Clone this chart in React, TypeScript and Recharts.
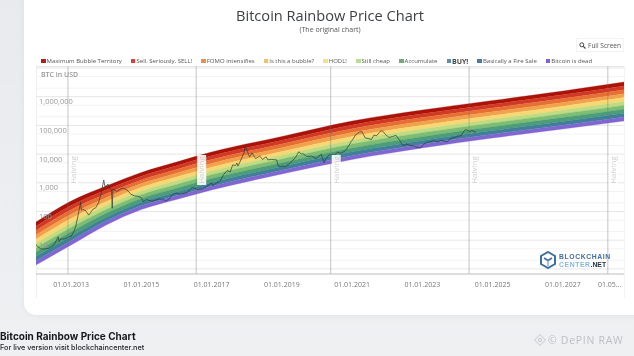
import { Area, CartesianGrid, ComposedChart, Line, ReferenceLine, XAxis, YAxis } from 'recharts';

const bandNames = ['Maximum Bubble Territory', 'Sell. Seriously, SELL!', 'FOMO intensifies', 'Is this a bubble?', 'HODL!', 'Still cheap', 'Accumulate', 'BUY!', 'Basically a Fire Sale', 'Bitcoin is dead'];
const bandColors = ['#ad1208', '#d03a24', '#e66f33', '#f0a24c', '#f8d873', '#bfdc82', '#7dbd74', '#4c9e78', '#3f8098', '#8066d0'];
const legendColors = ['#b51c1c', '#d9423a', '#e8914f', '#f1c265', '#f8de8a', '#bbdc94', '#6fae7b', '#5b8fa8', '#4a78a8', '#8562d2'];

const bandYears = [2012, 2013, 2014, 2015, 2016, 2017, 2019, 2021, 2023, 2025, 2027, 2028.74];
const edge0 = [43.1, 232, 773, 2290, 5300, 11800, 41000, 142000, 344000, 736000, 1580000, 3250000];
const edge1 = [30.5, 163, 565, 1700, 3920, 8730, 30300, 104000, 254000, 545000, 1160000, 2380000];
const edge2 = [21.6, 115, 413, 1260, 2900, 6430, 22500, 76700, 187000, 404000, 857000, 1740000];
const edge3 = [15.3, 80.5, 302, 938, 2150, 4740, 16600, 56400, 138000, 299000, 632000, 1270000];
const edge4 = [10.8, 56.6, 221, 697, 1590, 3500, 12300, 41400, 101000, 221000, 466000, 931000];
const edge5 = [7.67, 39.7, 162, 518, 1180, 2580, 9120, 30400, 74800, 164000, 344000, 681000];
const edge6 = [5.43, 27.9, 118, 385, 871, 1900, 6750, 22300, 55200, 121000, 254000, 498000];
const edge7 = [3.85, 19.6, 86.5, 286, 646, 1400, 4990, 16400, 40600, 89700, 187000, 364000];
const edge8 = [2.73, 13.8, 63.2, 212, 478, 1030, 3690, 12000, 30000, 66400, 138000, 266000];
const edge9 = [1.93, 9.66, 46.2, 158, 354, 762, 2740, 8830, 22100, 49200, 101000, 195000];
const edge10 = [1.37, 6.79, 33.8, 117, 262, 561, 2020, 6490, 16300, 36400, 74800, 142000];
const edges = [edge0, edge1, edge2, edge3, edge4, edge5, edge6, edge7, edge8, edge9, edge10];

const priceYears = [
  2012, 2012.03, 2012.08, 2012.15, 2012.25, 2012.35, 2012.45, 2012.52, 2012.6, 2012.63, 2012.66, 2012.7, 2012.8, 2012.88, 2012.95,
  2013, 2013.08, 2013.13, 2013.2, 2013.27, 2013.29, 2013.33, 2013.42, 2013.5, 2013.55, 2013.62, 2013.7, 2013.78, 2013.85, 2013.92, 2013.93, 2013.96,
  2014, 2014.05, 2014.1, 2014.15, 2014.17, 2014.19, 2014.3, 2014.4, 2014.45, 2014.5, 2014.6, 2014.7, 2014.8, 2014.9,
  2015, 2015.05, 2015.15, 2015.3, 2015.5, 2015.6, 2015.7, 2015.8, 2015.85, 2015.95,
  2016, 2016.1, 2016.3, 2016.45, 2016.5, 2016.6, 2016.75, 2016.85, 2016.95,
  2017, 2017.03, 2017.2, 2017.25, 2017.35, 2017.45, 2017.53, 2017.6, 2017.68, 2017.72, 2017.75, 2017.85, 2017.92, 2017.96,
  2018, 2018.08, 2018.15, 2018.25, 2018.37, 2018.45, 2018.55, 2018.6, 2018.7, 2018.85, 2018.9, 2018.97,
  2019, 2019.1, 2019.25, 2019.4, 2019.48, 2019.52, 2019.55, 2019.6, 2019.7, 2019.85, 2019.95,
  2020, 2020.12, 2020.2, 2020.25, 2020.35, 2020.5, 2020.58, 2020.7, 2020.8, 2020.9, 2020.97,
  2021.03, 2021.1, 2021.2, 2021.28, 2021.37, 2021.45, 2021.55, 2021.62, 2021.7, 2021.8, 2021.86, 2021.95,
  2022.05, 2022.15, 2022.25, 2022.35, 2022.45, 2022.55, 2022.65, 2022.75, 2022.85, 2022.95,
  2023.05, 2023.2, 2023.3, 2023.45, 2023.52, 2023.6, 2023.7, 2023.8, 2023.9,
  2024, 2024.1, 2024.18, 2024.22, 2024.28, 2024.35, 2024.4, 2024.45, 2024.52,
];
const priceValues = [
  6.8, 6.5, 5.5, 4.9, 5, 5.1, 6, 7, 11, 13, 9, 11, 11, 12, 13.5,
  13.5, 20, 30, 75, 210, 110, 120, 105, 75, 90, 120, 135, 200, 400, 1100, 1250, 750,
  770, 900, 650, 550, 130, 600, 500, 600, 640, 640, 550, 400, 350, 340,
  300, 220, 260, 230, 270, 270, 230, 280, 360, 430,
  430, 400, 450, 700, 650, 580, 620, 730, 900,
  1000, 800, 1100, 1200, 2000, 2700, 2400, 4200, 4000, 4900, 3800, 7000, 11000, 19000,
  14000, 8000, 11000, 7000, 8500, 6500, 8000, 6300, 6500, 6300, 3800, 3700,
  3800, 3700, 5000, 8000, 12000, 11000, 10000, 10500, 8300, 8500, 7200,
  7200, 10000, 5000, 6800, 9500, 9300, 11500, 10800, 13000, 19000, 27000,
  34000, 47000, 58000, 60000, 37000, 35000, 32000, 46000, 44000, 62000, 65000, 48000,
  38000, 41000, 45000, 30000, 20000, 22000, 20000, 19500, 17000, 16800,
  23000, 27000, 29000, 27000, 30000, 29000, 26500, 35000, 37000,
  42000, 43000, 62000, 71000, 68000, 60000, 68000, 64000, 58000,
];

const halvingYears = [2012.91, 2016.56, 2020.39, 2024.33, 2028.28];
const xTicks = [2013, 2015, 2017, 2019, 2021, 2023, 2025, 2027, 2028.33];
const xLabels = ['01.01.2013', '01.01.2015', '01.01.2017', '01.01.2019', '01.01.2021', '01.01.2023', '01.01.2025', '01.01.2027', '01.05...'];
const yTicks = [10, 100, 1000, 10000, 100000, 1000000];
const majorGrid = [1, 10, 100, 1000, 10000, 100000, 1000000, 10000000];
const minorGrid = [2, 5, 20, 50, 200, 500, 2000, 5000, 20000, 50000, 200000, 500000, 2000000, 5000000];

const bandRows = bandYears.map((year, j) => ({ year, edges: edges.map((e) => e[j]) }));
const priceRows = priceYears.map((year, i) => ({ year, price: priceValues[i] }));

const font = '"Open Sans", sans-serif';

const HalvingLabel = (props: any) => {
  const x = props.viewBox.x;
  return (
    <g>
      <rect x={x + 1} y={155} width={9} height={30} fill="#fff" fillOpacity={0.9} />
      <text x={x + 8} y={170} transform={`rotate(-90 ${x + 8} 170)`} textAnchor="middle" fontSize={8} fontFamily={font} fill="#cfcfcf">
        Halving
      </text>
    </g>
  );
};

const PriceTick = (props: any) => (
  <text x={39} y={props.y + 7.5} fontSize={7.5} fontFamily={font} fill="#999">
    {Number(props.payload.value).toLocaleString('en-US')}
  </text>
);

export default function App() {
  return (
    <div style={{ position: 'fixed', left: 0, top: 0, width: 634, height: 356, overflow: 'hidden', background: 'linear-gradient(180deg, #e9eaee 0%, #eef0f2 100%)', filter: 'blur(0.4px)', fontFamily: font }}>
      <div style={{ position: 'absolute', left: 24, top: -20, width: 640, height: 335, borderRadius: 12, background: '#fff', boxShadow: '0 1px 6px rgba(0,0,0,0.05)' }} />

      <div style={{ position: 'absolute', left: 130, width: 400, top: 6, lineHeight: '18px', textAlign: 'center', fontSize: 14.6, color: '#3c3f44' }}>Bitcoin Rainbow Price Chart</div>
      <div style={{ position: 'absolute', left: 130, width: 400, top: 25, lineHeight: '9px', textAlign: 'center', fontSize: 7, color: '#555' }}>(The original chart)</div>

      <div style={{ position: 'absolute', left: 576, top: 38, width: 48, height: 14, display: 'flex', alignItems: 'center', justifyContent: 'center', gap: 2, fontSize: 6.5, color: '#555', border: '1px solid #f3f3f3', boxSizing: 'border-box' }}>
        <svg width={7} height={7} viewBox="0 0 7 7">
          <circle cx={2.8} cy={2.8} r={2} fill="none" stroke="#444" strokeWidth={1} />
          <line x1={4.3} y1={4.3} x2={6.5} y2={6.5} stroke="#444" strokeWidth={1.2} />
        </svg>
        Full Screen
      </div>

      <div style={{ position: 'absolute', left: 41, top: 56, height: 10, display: 'flex', alignItems: 'center', gap: 9.1, fontSize: 6, color: '#555', whiteSpace: 'nowrap' }}>
        {bandNames.map((name, i) => (
          <div key={name} style={{ display: 'flex', alignItems: 'center', gap: 1 }}>
            <span style={{ display: 'inline-block', width: 4.5, height: 4.5, background: legendColors[i] }} />
            <span style={name === 'BUY!' ? { fontWeight: 700, fontSize: 7, color: '#444' } : undefined}>{name}</span>
          </div>
        ))}
      </div>

      <div style={{ position: 'absolute', left: 36, top: 66, width: 588, height: 1, background: '#e6e6e6' }} />
      <div style={{ position: 'absolute', left: 36, top: 66, width: 1, height: 232, background: '#eeeeee' }} />
      <div style={{ position: 'absolute', left: 624, top: 66, width: 1, height: 232, background: '#f3f3f3' }} />

      <div style={{ position: 'absolute', left: 0, top: 0 }}>
        <ComposedChart width={634} height={356} data={bandRows} margin={{ top: 66.5, right: 10, bottom: 52, left: 35 }}>
          <CartesianGrid vertical={false} horizontalValues={minorGrid} stroke="#f3f3f3" strokeWidth={1} />
          <CartesianGrid vertical={false} horizontalValues={majorGrid} stroke="#e6e6e6" strokeWidth={1} />
          <XAxis
            dataKey="year"
            type="number"
            height={30}
            domain={[2012, 2028.74]}
            allowDataOverflow
            ticks={xTicks}
            tickFormatter={(v: number) => xLabels[xTicks.indexOf(v)]}
            interval={0}
            tickLine={false}
            axisLine={{ stroke: '#bdbdbd', strokeWidth: 1 }}
            tick={{ fontSize: 7, fontFamily: font, fill: '#777' }}
            tickMargin={2}
          />
          <YAxis
            type="number"
            scale="log"
            domain={[0.664, 11270000]}
            allowDataOverflow
            ticks={yTicks}
            width={1}
            interval={0}
            tickLine={false}
            axisLine={false}
            tick={(p: any) => <PriceTick {...p} />}
          />
          {bandNames.map((name, i) => (
            <Area
              key={name}
              data={bandRows}
              dataKey={(d: any) => (d.edges ? [d.edges[i + 1], d.edges[i]] : null)}
              type="monotone"
              fill={bandColors[i]}
              fillOpacity={1}
              stroke={bandColors[i]}
              strokeWidth={0.3}
              dot={false}
              activeDot={false}
              isAnimationActive={false}
            />
          ))}
          <Line data={priceRows} dataKey="price" type="linear" stroke="#2b3a38" strokeWidth={0.7} dot={false} activeDot={false} isAnimationActive={false} />
          {halvingYears.map((year) => (
            <ReferenceLine key={year} x={year} stroke="rgba(110,110,110,0.4)" strokeWidth={1} label={<HalvingLabel />} />
          ))}
        </ComposedChart>
      </div>

      <div style={{ position: 'absolute', left: 41, top: 70, fontSize: 7, fontWeight: 600, color: '#999' }}>BTC in USD</div>

      <svg style={{ position: 'absolute', left: 539, top: 251 }} width={18} height={18} viewBox="0 0 18 18">
        <polygon points="9,1 16,5 16,13 9,17 2,13 2,5" fill="none" stroke="#3f6f9f" strokeWidth={2} />
        <polyline points="5,7 9,9.5 13,7" fill="none" stroke="#3f6f9f" strokeWidth={1.5} />
        <line x1={9} y1={9.5} x2={9} y2={15} stroke="#7fb2d9" strokeWidth={1.5} />
      </svg>
      <div style={{ position: 'absolute', left: 559, top: 253, fontFamily: '"Liberation Sans", sans-serif', fontSize: 6.8, lineHeight: '8px', fontWeight: 700, color: '#3d6f9f', letterSpacing: 0.6, whiteSpace: 'nowrap' }}>
        <div style={{ height: 8 }}>BLOCKCHAIN</div>
        <div style={{ height: 8 }}>
          <span style={{ color: '#86b6da' }}>CENTER</span>
          <span style={{ color: '#1f2d3d', letterSpacing: 0 }}>.NET</span>
        </div>
      </div>

      <div style={{ position: 'absolute', left: 0, top: 330, lineHeight: '13px', fontSize: 10, fontWeight: 700, fontFamily: 'Inter, sans-serif', color: '#15181c', whiteSpace: 'nowrap' }}>Bitcoin Rainbow Price Chart</div>
      <div style={{ position: 'absolute', left: 0, top: 343, lineHeight: '10px', fontSize: 7.3, fontWeight: 500, fontFamily: 'Inter, sans-serif', color: '#25282c', whiteSpace: 'nowrap' }}>For live version visit blockchaincenter.net</div>
      <svg style={{ position: 'absolute', left: 534, top: 334 }} width={12} height={12} viewBox="0 0 12 12">
        <polygon points="6,0.5 11.5,6 6,11.5 0.5,6" fill="none" stroke="#c4c6ca" strokeWidth={1} />
        <circle cx={6} cy={6} r={1.6} fill="none" stroke="#c4c6ca" strokeWidth={1} />
      </svg>
      <div style={{ position: 'absolute', left: 548, top: 333, fontSize: 10.5, letterSpacing: 0.7, color: '#bcbfc4', whiteSpace: 'nowrap' }}>© DePIN RAW</div>
    </div>
  );
}
